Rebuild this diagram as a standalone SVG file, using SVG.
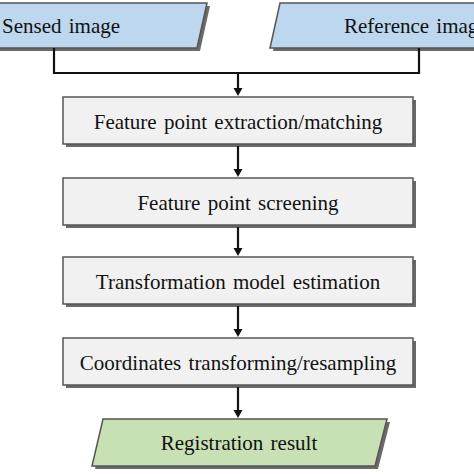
<svg xmlns="http://www.w3.org/2000/svg" width="474" height="474" viewBox="0 0 474 474">
<defs>
<style>
.box{fill:#f1f1f1;stroke:#555;stroke-width:1.5}
.shadow{fill:#6a6a6a}
.in{fill:#bdd7ee;stroke:#555;stroke-width:1.5}
.out{fill:#c7e0b4;stroke:#555;stroke-width:1.5}
.t{font-family:"Liberation Serif","Times New Roman",serif;font-size:21px;word-spacing:2px;fill:#111;text-anchor:middle;dominant-baseline:central}
.c{stroke:#111;stroke-width:2.2;fill:none}
</style>
</defs>
<rect width="474" height="474" fill="#fff"/>
<g id="sensed">
<polygon class="shadow" points="-12,6 210,6 200,51 -22,51"/>
<polygon class="in" points="-12,3 207,3 197,48 -22,48"/>
<text class="t" x="2" y="26" style="text-anchor:start">Sensed image</text>
</g>
<g id="reference">
<polygon class="shadow" points="283,6 490,6 490,51 273,51"/>
<polygon class="in" points="280,3 490,3 490,48 270,48"/>
<text class="t" x="344" y="26" style="text-anchor:start">Reference image</text>
</g>
<g id="n1">
<rect class="shadow" x="66" y="100" width="350" height="47"/>
<rect class="box" x="63" y="97" width="350" height="47"/>
<text class="t" x="238" y="122">Feature point extraction/matching</text>
</g>
<g id="n2">
<rect class="shadow" x="66" y="181" width="350" height="47"/>
<rect class="box" x="63" y="178" width="350" height="47"/>
<text class="t" x="238" y="203">Feature point screening</text>
</g>
<g id="n3">
<rect class="shadow" x="66" y="260" width="350" height="47"/>
<rect class="box" x="63" y="257" width="350" height="47"/>
<text class="t" x="238" y="282">Transformation model estimation</text>
</g>
<g id="n4">
<rect class="shadow" x="66" y="341" width="350" height="47"/>
<rect class="box" x="63" y="338" width="350" height="47"/>
<text class="t" x="238" y="363">Coordinates transforming/resampling</text>
</g>
<g id="result">
<polygon class="shadow" points="106,422 390,422 378,469 95,469"/>
<polygon class="out" points="103,419 387,419 375,466 92,466"/>
<text class="t" x="239" y="443">Registration result</text>
</g>
<g id="connectors">
<polyline class="c" points="54,48 54,73 419,73 419,48"/>
<line class="c" x1="238" y1="73" x2="238" y2="89"/>
<path d="M233.5,88 L242.5,88 L238,96 Z" fill="#111"/>
<line class="c" x1="238" y1="146" x2="238" y2="170"/>
<path d="M233.5,169 L242.5,169 L238,177 Z" fill="#111"/>
<line class="c" x1="238" y1="227" x2="238" y2="249"/>
<path d="M233.5,248 L242.5,248 L238,256 Z" fill="#111"/>
<line class="c" x1="238" y1="306" x2="238" y2="330"/>
<path d="M233.5,329 L242.5,329 L238,337 Z" fill="#111"/>
<line class="c" x1="238" y1="387" x2="238" y2="411"/>
<path d="M233.5,410 L242.5,410 L238,418 Z" fill="#111"/>
</g>
</svg>
